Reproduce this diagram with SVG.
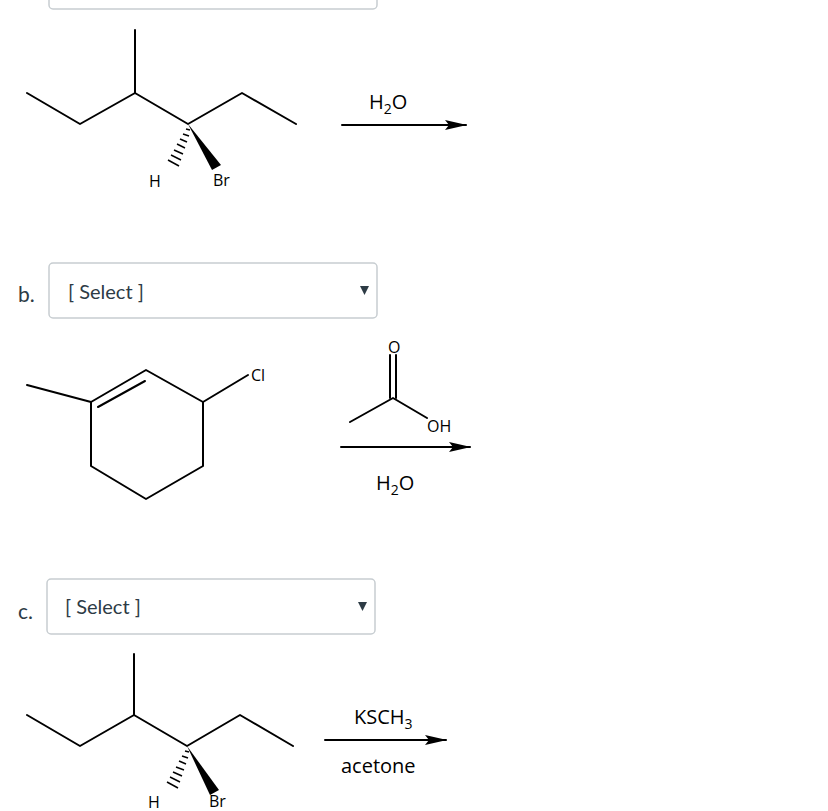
<svg xmlns="http://www.w3.org/2000/svg" width="828" height="811" viewBox="0 0 828 811">
<defs>
<style>
.b{stroke:#000;stroke-width:2;fill:none;stroke-linecap:round;stroke-linejoin:round}
.box{fill:#fff;stroke:#c7cdd1;stroke-width:1.5}
.sel{font-family:Lato,"Liberation Sans",sans-serif;font-size:20px;fill:#2d3b45}
.lab{font-family:Lato,"Liberation Sans",sans-serif;font-size:21px;fill:#2d3b45}
.at{font-family:"Open Sans","Noto Sans","Liberation Sans",sans-serif;font-size:16px;fill:#000}
.rg{font-family:"Open Sans","Noto Sans","Liberation Sans",sans-serif;font-size:20px;fill:#000}
.hash{stroke:#000;stroke-width:1.5}
</style>
<marker id="ah" markerWidth="22" markerHeight="10" refX="21" refY="5" orient="auto" markerUnits="userSpaceOnUse"><path d="M0,0 L22,5 L0,10 L4,5Z" fill="#000"/></marker>
</defs>
<rect width="828" height="811" fill="#fff"/>
<g id="selectA"><rect class="box" x="49" y="-10" width="328" height="19" rx="4"/></g>
<g id="selectB"><text class="lab" x="18" y="302">b.</text><rect class="box" x="49" y="263" width="328" height="55" rx="4"/><text class="sel" x="68" y="299">[ Select ]</text><path d="M360,286 L369,286 L364.5,295Z" fill="#2d3b45"/></g>
<g id="selectC"><text class="lab" x="18" y="619">c.</text><rect class="box" x="47" y="579" width="328" height="55" rx="4"/><text class="sel" x="65" y="614">[ Select ]</text><path d="M358,602 L367,602 L362.5,611Z" fill="#2d3b45"/></g>
<g id="molA">
<polyline class="b" points="27,93 80,124 135,93 188,124 242,93 296,124"/>
<line class="b" x1="135" y1="93" x2="135" y2="30"/>
<path d="M188,124 L212,170 L221,165Z" fill="#000"/>
<g class="hash"><line x1="186" y1="129" x2="190" y2="130"/><line x1="183" y1="134" x2="189" y2="136"/><line x1="180" y1="139" x2="187" y2="142"/><line x1="177" y1="144" x2="185" y2="148"/><line x1="174" y1="150" x2="183" y2="154"/><line x1="171" y1="155" x2="181" y2="160"/><line x1="168" y1="160" x2="179" y2="166"/></g>
<text class="at" x="149" y="187">H</text><text class="at" x="213" y="186">Br</text>
</g>
<g id="molB">
<line class="b" x1="27" y1="385" x2="91" y2="402"/>
<polygon class="b" points="91,402 146,370 203,402 203,466 146,499 91,466"/>
<line class="b" x1="98" y1="407" x2="145" y2="381"/>
<line class="b" x1="203" y1="402" x2="248" y2="375"/>
<text class="at" x="251" y="381">Cl</text>
</g>
<g id="reagentB">
<polyline class="b" points="350,422 393,398 427,418"/>
<line class="b" x1="390" y1="398" x2="390" y2="355"/><line class="b" x1="396" y1="398" x2="396" y2="355"/>
<text class="at" x="388" y="353">O</text><text class="at" x="427" y="432">OH</text>
</g>
<g id="molC">
<polyline class="b" points="27,715 80,746 134,715 187,746 240,715 293,746"/>
<line class="b" x1="134" y1="715" x2="134" y2="654"/>
<path d="M187,746 L210,795 L219,790Z" fill="#000"/>
<g class="hash"><line x1="185" y1="751" x2="189" y2="752"/><line x1="182" y1="756" x2="188" y2="758"/><line x1="179" y1="761" x2="186" y2="764"/><line x1="176" y1="767" x2="184" y2="770"/><line x1="173" y1="772" x2="182" y2="776"/><line x1="170" y1="777" x2="180" y2="782"/><line x1="167" y1="782" x2="178" y2="788"/></g>
<text class="at" x="148" y="808">H</text><text class="at" x="209" y="807">Br</text>
</g>
<g id="connectors">
<line class="b" x1="342" y1="125" x2="466" y2="125" marker-end="url(#ah)"/>
<line class="b" x1="341" y1="447" x2="470" y2="447" marker-end="url(#ah)"/>
<line class="b" x1="325" y1="740" x2="446" y2="740" marker-end="url(#ah)"/>
</g>
<g id="labels">
<text class="rg" x="369" y="109">H<tspan font-size="14" dy="5">2</tspan><tspan dy="-5">O</tspan></text>
<text class="rg" x="376" y="490">H<tspan font-size="14" dy="5">2</tspan><tspan dy="-5">O</tspan></text>
<text class="rg" x="354" y="724">KSCH<tspan font-size="14" dy="5">3</tspan></text>
<text class="rg" x="341" y="773">acetone</text>
</g>
</svg>
